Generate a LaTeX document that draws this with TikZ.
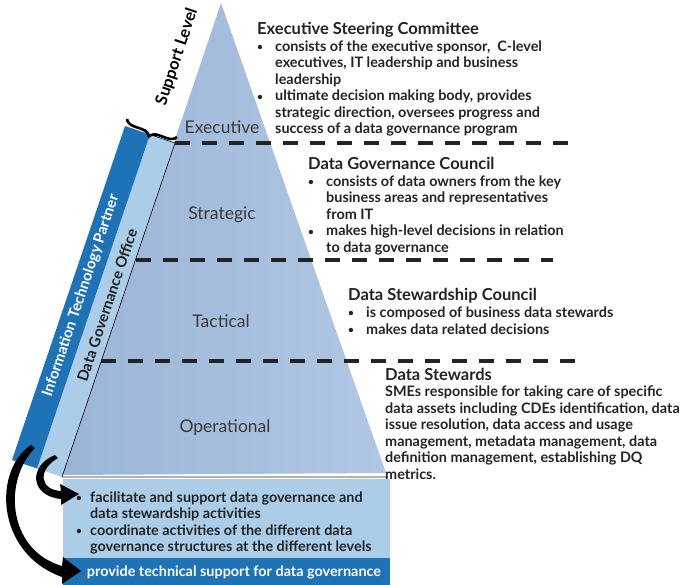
\documentclass[tikz,border=0pt]{standalone}
\usepackage{fontspec}
\setmainfont{Lato}
\usetikzlibrary{decorations.pathreplacing,arrows.meta}
\definecolor{pyr}{RGB}{155,181,215}
\definecolor{pyrlight}{RGB}{176,199,228}
\definecolor{lband}{RGB}{171,205,232}
\definecolor{dband}{RGB}{30,115,183}
\definecolor{txt}{RGB}{35,35,35}
\newcommand\descfont{\fontsize{14.4}{16.5}\selectfont\bfseries}
\newcommand\headfont{\fontsize{16.5}{16.5}\selectfont\bfseries}
\newcommand\lvlfont{\fontsize{17.5}{18}\selectfont}
\newcommand\bandfont{\fontsize{15}{16}\selectfont\bfseries}
\newcommand\blt{\raisebox{0.5pt}{\scalebox{0.7}{\textbullet}}}
\begin{document}
\begin{tikzpicture}[x=1pt,y=-1pt,
  desc/.style={anchor=base west, inner sep=0pt, text=txt, font=\descfont},
  lvl/.style={text=txt!90, font=\lvlfont, inner sep=0pt},
  bandtxt/.style={rotate=71.5, font=\bandfont, inner sep=0pt},
  dashline/.style={line width=4pt, dash pattern=on 15pt off 12pt, txt},
  arrowfill/.style={fill=black}]
\useasboundingbox (0,0) rectangle (685,585);
% pyramid
\coordinate (apex) at (221,3);
\coordinate (bl) at (62,475);
\coordinate (br) at (386,473);
\shade[left color=pyr, right color=pyrlight] (apex) -- (br) -- (bl) -- cycle;
\draw[black!30, line width=2pt] (62,477) -- (388,477);
% bands
\coordinate (lbtr) at (175,143);
\coordinate (lbbr) at (62,477);
\coordinate (lbbl) at (37,468.5);
\coordinate (lbtl) at (150,134.5);
\coordinate (dbbl) at (12,460);
\coordinate (dbtl) at (125,126);
\fill[lband] (lbtr) -- (lbbr) -- (lbbl) -- (lbtl) -- cycle;
\fill[dband] (lbtl) -- (lbbl) -- (dbbl) -- (dbtl) -- cycle;
\draw[black, line width=0.6pt] (lbtl) -- (lbtr) -- (lbbr);
% bottom boxes
\fill[lband] (63,479) rectangle (390,558);
\fill[dband] (63,558) rectangle (390,585);
% dashed lines
\coordinate (d1a) at (175,143); \coordinate (d1b) at (577,143);
\coordinate (d2a) at (136,260); \coordinate (d2b) at (553,260);
\coordinate (d3a) at (101,361); \coordinate (d3b) at (582,361);
\draw[dashline] (d1a) -- (d1b);
\draw[dashline] (d2a) -- (d2b);
\draw[dashline] (d3a) -- (d3b);
% level labels
\node[lvl] (exe) at (222,127) {Executive};
\node[lvl] (str) at (222,215) {Strategic};
\node[lvl] (tac) at (221,321) {Tactical};
\node[lvl] (ope) at (225,428) {Operational};
% band texts
\node[bandtxt, text=white] (itp) at (81,296) {Information Technology Partner};
\node[bandtxt, text=txt] (dgo) at (107,305) {Data Governance Office};
\node[bandtxt, text=black, font=\fontsize{16.5}{18}\selectfont\bfseries] (sup) at (177,57) {Support Level};
\draw[decorate, decoration={brace, amplitude=9pt}, line width=2.6pt] (177,137) -- (127,119);
% arrows
\fill[arrowfill] (31,445) .. controls (-7,470) and (-5,553) .. (62,577) -- (62,584) -- (81,571) -- (63,557) -- (62,566) .. controls (7,550) and (3,480) .. (35,448) -- cycle;
\fill[arrowfill] (55,455) .. controls (28,466) and (30,496) .. (61,499) -- (61,505) -- (79,494) -- (60,484) -- (61,491) .. controls (40,490) and (37,470) .. (58,458) -- cycle;
% descriptions
\node[desc] (esc) at (257,35) {\begin{tabular}[t]{@{}p{18pt}@{}l@{}}
\multicolumn{2}{@{}l@{}}{\headfont Executive Steering Committee}\\
\blt & consists of the executive sponsor,\ \ C-level\\
 & executives, IT leadership and business\\
 & leadership\\
\blt & ultimate decision making body, provides\\
 & strategic direction, oversees progress and\\
 & success of a data governance program
\end{tabular}};
\node[desc] (dgc) at (308,170) {\begin{tabular}[t]{@{}p{18pt}@{}l@{}}
\multicolumn{2}{@{}l@{}}{\headfont Data Governance Council}\\
\blt & consists of data owners from the key\\
 & business areas and representatives\\
 & from IT\\
\blt & makes high-level decisions in relation\\
 & to data governance
\end{tabular}};
\node[desc] (dsc) at (348,301) {\begin{tabular}[t]{@{}p{18pt}@{}l@{}}
\multicolumn{2}{@{}l@{}}{\headfont Data Stewardship Council}\\
\blt & is composed of business data stewards\\
\blt & makes data related decisions
\end{tabular}};
\node[desc] (dst) at (385,380) {\begin{tabular}[t]{@{}l@{}}
{\headfont Data Stewards}\\
SMEs responsible for taking care of specific\\
data assets including CDEs identification, data\\
issue resolution, data access and usage\\
management, metadata management, data\\
definition management, establishing DQ\\
metrics.
\end{tabular}};
\node[desc] (dgoact) at (76,502) {\begin{tabular}[t]{@{}p{14pt}@{}l@{}}
\blt & facilitate and support data governance and\\
 & data stewardship activities\\
\blt & coordinate activities of the different data\\
 & governance structures at the different levels
\end{tabular}};
\node[desc, anchor=center, text=white] (itpact) at (234,572) {provide technical support for data governance};
\end{tikzpicture}
\end{document}
